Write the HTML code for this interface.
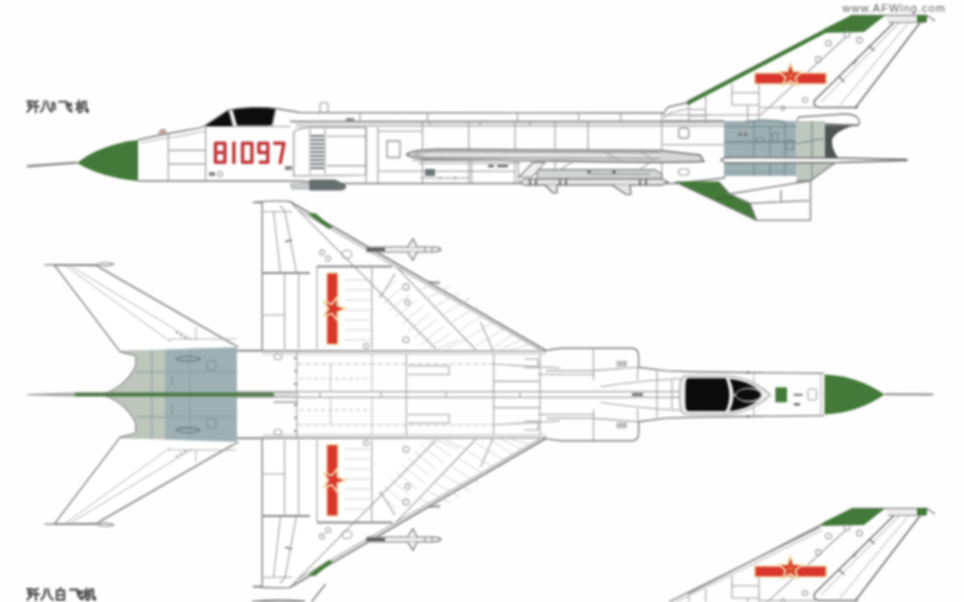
<!DOCTYPE html>
<html><head><meta charset="utf-8"><style>
html,body{margin:0;padding:0;background:#fff;width:964px;height:602px;overflow:hidden}
svg{display:block;filter:blur(0.9px)}
text{font-family:"Liberation Sans",sans-serif}
</style></head><body>
<svg width="964" height="602" viewBox="0 0 964 602">
<defs>
  <polygon id="star" points="0,-12 2.8,-3.8 11.4,-3.7 4.5,1.5 7.1,9.7 0,4.8 -7.1,9.7 -4.5,1.5 -11.4,-3.7 -2.8,-3.8"/>
</defs>
<rect width="964" height="602" fill="#fefefe"/>

<!-- ================= FIN (reused) ================= -->
<g id="fin" fill="none" stroke="#7c7c7c" stroke-width="1.3" stroke-linejoin="round">
  <!-- fin body outline -->
  <path d="M688,101 L852,15.5 L927,15.5 L935,21"/>
  <path d="M920.8,21.7 L855,108.3" stroke="#6e6e6e" stroke-width="1.5"/>
  <!-- green tip + stripe -->
  <path d="M852,15.5 L885,15.5 L864,32 L820,33 L825,28.5 Z" fill="#437a39" stroke="none"/>
  <!-- rudder -->
  <path d="M894,22.5 L815.5,99.5 C812,104 815,107.5 821,107.5 L858,107.5" stroke="#6e6e6e" stroke-width="1.5"/>
  <path d="M899,23 L821,102" stroke="#a5a5a5" stroke-width="1"/>
  <path d="M908,23.3 L840,105" stroke="#b0b0b0" stroke-width="1"/>
  <path d="M869,45.5 L874.5,51 M839,76.5 L844.5,82" stroke="#777" stroke-width="1.3"/>
  <path d="M857,59 L853,64" stroke="#777" stroke-width="2"/>
  <path d="M885,15.5 L925,15.5 L925,22.5 L888,22.5" fill="#ececec" stroke="#8a8a8a" stroke-width="1"/>
  <rect x="917" y="15" width="10" height="7" fill="#437a39" stroke="none"/>
  <!-- fin inner panels -->
  <g stroke="#9e9e9e" stroke-width="1.1">
    <path d="M689,103 L689,121.5 M705.7,96 L705.7,121.5 M689,109.5 L705.7,109.5 M689,116 L705.7,116"/>
    <path d="M732,83 L732,105 L759,105 M732,92.7 L759,92.7 M759,78 L759,121 M747.7,105 L747.7,121"/>
    <path d="M760.5,115.2 L846,37"/>
    <path d="M760,107.5 L815,107.5"/>
    <circle cx="828.5" cy="43" r="2.8"/><circle cx="847" cy="34.7" r="2.8"/><circle cx="859.5" cy="40.2" r="2.8"/><circle cx="818.3" cy="59.4" r="2.8"/>
    <circle cx="805" cy="100" r="2.5"/><circle cx="783" cy="108" r="2"/>
  </g>
  <!-- insignia -->
  <rect x="754" y="72.3" width="73" height="12.4" fill="#f2e2b2" stroke="none"/>
  <rect x="755.4" y="73.7" width="70.2" height="9.6" fill="#d9352b" stroke="none"/>
  <use href="#star" transform="translate(790.5,75.5) scale(1.08)" fill="#d9352b" stroke="#f2e2b2" stroke-width="1.6"/>
  <use href="#star" transform="translate(790.5,75.5) scale(0.35)" fill="#e8a040" stroke="none" opacity="0.5"/>
</g>

<!-- ================= SIDE VIEW ================= -->
<g id="side" fill="none" stroke="#7c7c7c" stroke-width="1.3" stroke-linejoin="round">
  <path d="M687,103.5 L852,17" stroke="#437a39" stroke-width="3.8"/>
  <!-- exhaust fills -->
  <path d="M724,121 L796.5,121 L796.5,176 L724,176 Z" fill="#9db1b5" stroke="none"/>
  <path d="M796.5,121 L825,121 L825,158 L839,160 L810,181 L796.5,181 Z" fill="#bec8be" stroke="none"/>
  <path d="M825,123.5 L859,124.5 C846,127 833,133 832,141 C832,149 836,155 840,160 L825,158 Z" fill="#4c5553" stroke="none"/>
  <g stroke="#73868a" stroke-width="1.1">
    <path d="M724,142 L796,142" stroke-width="1.5"/>
    <path d="M724,126.5 L796,126.5 M753.9,121 L753.9,176 M770,126 L770,176 M785,121 L785,176"/>
    <path d="M796,143.7 L823.4,138.5 M812,121 L812,181"/>
    <ellipse cx="760" cy="139.5" rx="4" ry="2.5"/>
    <rect x="772.5" y="132.8" width="5.2" height="9.2"/>
    <rect x="786" y="140.5" width="7.3" height="8.9"/>
    <path d="M745,122 C755,119.5 775,119.5 785,122" stroke-width="1.5"/>
    <path d="M724,160 L796,160 M724,172 L796,172" stroke="#8a9ca0" stroke-width="1"/>
  </g>
  <circle cx="739.9" cy="134.4" r="1.3" fill="#61767a"/><circle cx="745.6" cy="134.4" r="1.3" fill="#61767a"/>
  <!-- pitot -->
  <path d="M27,166.3 L77,162.6" stroke="#8a8a8a" stroke-width="2.4"/>
  <path d="M158,134 L161,129.5 L165,129.5 L166,133.5" fill="#c9a0a0" stroke="#998" stroke-width="1"/>
  <!-- green nose -->
  <path d="M77,163 C92,151 112,143 138,140 L138,181 C112,178.5 92,172 77,163 Z" fill="#437a39" stroke="none"/>
  <!-- canopy -->
  <path d="M204.3,126 L227.5,110.8 L229,110.6 L232.5,126 Z" fill="#0d0d0d" stroke="none"/>
  <path d="M232.5,109.8 C240,108 250,107.4 262,107.6 C268,107.8 273,108.4 276,109.2 L273,123 Q272,125.6 269,125.6 L237,125.6 Z" fill="#0d0d0d" stroke="none"/>
  <!-- fuselage top outline -->
  <path d="M138,140 C150,137 165,134 180,131.5 L199,128.2 L204.3,126 L227.5,110.5 C240,107 265,106.5 276,108.5 L300,112.5 L663.6,113 C666,110 667,107 670,106.5 L688.5,102.5"/>
  <path d="M140,143 C152,140.5 166,138 181,136 L205,131" stroke="#b0b0b0" stroke-width="1.2"/>
  <path d="M663.6,118 L670,113 L689,108.5" stroke="#999" stroke-width="1"/>
  <path d="M229,110.5 L234,127 M276,109 L272,127" stroke="#b5b5b5" stroke-width="1.6"/>
  <path d="M205,126.5 L290,126.5" stroke="#9a9a9a" stroke-width="1.1"/>
  <!-- rear top fairing -->
  <path d="M796.5,121 L799,117 L845,114 C857,114 862,120 858,125.5 L825,125.5"/>
  <!-- fuselage lines -->
  <path d="M296,122 L724,122 L724,126.4 L296,126.4 Z" fill="#e6e6e6" stroke="none"/>
  <path d="M290,121.5 L724,121.5" stroke-width="1.6"/>
  <path d="M296,126 L724,126" stroke="#aaa" stroke-width="1"/>
  <path d="M663,115 L760,115 M663,120.7 L724,120.7" stroke="#999" stroke-width="1"/>
  <!-- fuselage bottom -->
  <path d="M138,181 L300,181 L330,183.5 L676,183.5 L724,178 L724,176 M796.5,181 L810,181 L839,160" stroke-width="1.5"/>
  <!-- horizontal stabilizer edge-on -->
  <path d="M721,160 C722,157.5 726,157.5 730,157.5 L840,158 L907,159.5 L907,160.5 L840,162.5 L730,163 C726,163 722,162.5 721,160 Z" fill="#fbfbfb" stroke="#6a6a6a"/>
  <!-- ventral fin -->
  <path d="M675.2,181.6 L718.8,181.6 L729.7,194 L750,203.4 L756.5,220 L675.2,182.5 Z" fill="#437a39" stroke="none"/>
  <path d="M716,198.5 L735,197" stroke="#2f5a2a" stroke-width="1.2"/>
  <path d="M675.2,182 L756.5,220.3 L810.5,220.3 L810.5,180 M729.7,194 L809,181 M750,203.4 L809,200.6 M781,190 L781,202 M718.8,181.6 L729.7,194 L750,203.4 L756.5,220"/>
  <!-- panel lines side -->
  <g stroke="#999" stroke-width="1.1">
    <path d="M168.3,134 L168.3,181 M205.6,126.5 L205.6,181 M168.3,150.4 L205.6,150.4 M168.3,163.9 L205.6,163.9"/>
    <path d="M320,112 L320,103.5 Q324,101.5 328,103.5 L328,112"/>
    <path d="M293.7,176 L293.7,132 C296,129 302,128 310,127.5 L366,127.5 L366,175 Z" stroke="#8a8a8a"/>
    <path d="M310,129 L310,174 M325,129 L325,174"/>
    <path d="M311,136 L324,136 M311,140 L324,140 M311,144 L324,144 M311,148 L324,148 M311,152 L324,152 M311,156 L324,156 M311,160 L324,160 M311,164 L324,164 M311,168 L324,168" stroke="#6a7474" stroke-width="1.9"/>
    <path d="M327,136.2 L366,136.2 M327,165.6 L366,165.6"/>
    <rect x="387" y="141" width="13" height="16.5" stroke-width="1.4"/>
    <path d="M366,127 L366,183 M378,127 L378,183 M555,121.5 L555,150 M661.8,112 L661.8,183 M588,122 L588,150 M578.7,112 L578.7,122 M620.7,112 L620.7,122"/>
    <path d="M360,112.5 L360,121.5 M427.5,112.5 L427.5,121.5 M517.5,112.5 L517.5,121.5"/>
    <path d="M422.5,121.5 L422.5,183 M468.8,121.5 L468.8,183 M515,121.5 L515,183 M378,131.2 L422.5,131.2 M378,171.2 L515,171.2 M555,160 L555,175"/>
    <path d="M663,144.8 L724,144.8"/>
    <rect x="678.6" y="128" width="10.2" height="10.3" rx="3" stroke-width="1.4"/>
    <rect x="678.6" y="169" width="10.2" height="6" rx="2.5"/>
    <path d="M430,122 L430,126 M480,122 L480,126 M530,122 L530,126"/>
    <rect x="425" y="169" width="10" height="7" fill="#6f7878" stroke="none"/>
    <rect x="346" y="118" width="8" height="3.5" fill="#8a8a8a" stroke="none"/>
  </g>
  <!-- drop tank -->
  <path d="M406.5,154.5 C410,151 420,149.5 440,149.3 L660,150.4 L700,155 L704,161.6 L690,162 L660,162.5 L440,159.6 C420,159.4 410,158 406.5,154.5 Z" fill="#d6d6d6" stroke="#707070" stroke-width="1.5"/>
  <path d="M414,154.5 C418,152.5 425,151.8 440,151.6 L660,152.6 M414,154.8 C418,156.5 425,157.4 440,157.4 L660,158.4" stroke="#9a9a9a" stroke-width="1.1"/>
  <path d="M425,154.6 L660,155.5" stroke="#eeeeee" stroke-width="1.6"/>
  <path d="M600,150 L620,160 M640,151 L655,161" stroke="#999" stroke-width="1"/>
  <!-- missile & launcher side -->
  <path d="M412,160.5 L560,160.5 M418,163.2 L520,163.2" stroke="#999" stroke-width="1"/>
  <path d="M471.6,160 L471.6,183 M518.3,160 L518.3,183" stroke="#999" stroke-width="1.1"/>
  <path d="M537,169.6 L655,169.6 L662,174 L662,179 L537,179 Z" fill="#d2d4d4" stroke="#7a7a7a" stroke-width="1.1"/>
  <path d="M519,177 L533,162.5 L545,162.5 L532,177 Z" fill="#eee" stroke="#7a7a7a" stroke-width="1.1"/>
  <path d="M560,169.6 L575,160.5 M640,169.6 L652,161 M590,174 L650,174" stroke="#888" stroke-width="1"/>
  <path d="M527,179 L662,179 L668,182 L662,185.2 L527,185.2 C523,185.2 521,184 521,182 C521,180 523,179 527,179 Z" fill="#e6e6e6" stroke="#666" stroke-width="1.2"/>
  <path d="M545,185 L553,193 L557,193 L557,185 M612,185 L626,194.5 L631,194.5 L630,185" fill="#e6e6e6" stroke="#666" stroke-width="1.2"/>
  <path d="M530,179 L530,185 M536,179 L536,185 M560,179 L560,185 M566,179 L566,185 M640,179 L640,185 M646,179 L646,185" stroke="#555" stroke-width="1.6"/>
  <circle cx="589" cy="172" r="1.5" fill="#444" stroke="none"/><circle cx="614" cy="172" r="1.5" fill="#444" stroke="none"/>
  <path d="M488,166 L494,166 M497,166 L508,166" stroke="#666" stroke-width="2.4"/>
  <path d="M420,178 L470,178 M440,176 L440,180 M455,176 L455,180" stroke="#999" stroke-width="1"/>
  <!-- ventral pod -->
  <path d="M290,184 L310,183 L310,189 L292,189 Z" fill="#c9cccc" stroke="#999" stroke-width="0.8"/>
  <path d="M310,180 L335,180 L345,185 C347,187 345,190 340,190 L310,190 Z" fill="#66706e" stroke="#555" stroke-width="0.8"/>
  <!-- number -->
  <g stroke="#c23a3e" stroke-width="3.5" fill="none" stroke-linejoin="round">
    <path d="M215.5,143.2 H224.9 V162.3 H215.5 Z M215.5,152.4 H224.9"/>
    <path d="M233.9,141.6 V163.9"/>
    <path d="M242.6,143.2 H251.9 V162.3 H242.6 Z"/>
    <path d="M267.8,152.6 H258.9 V143.2 H267.8 V162.3 H258.9"/>
    <path d="M273.2,143.2 H284 L280,164"/>
  </g>
  <g fill="#888" stroke="none">
    <rect x="209" y="172" width="6" height="4"/><circle cx="220" cy="174" r="2.5" fill="none" stroke="#888" stroke-width="1"/>
    <rect x="285" y="166" width="7" height="4"/>
  </g>
</g>

<!-- ================= PLAN VIEW ================= -->
<g id="planhalf" fill="none" stroke="#7c7c7c" stroke-width="1.3" stroke-linejoin="round">
  <!-- nozzle fills -->
  <path d="M165,347.3 L237,347.3 L237,394.8 L165,394.8 Z" fill="#9db1b5" stroke="none"/>
  <path d="M119.4,351.6 L165,347.3 L165,394.8 L100,394.8 C114,391.5 128,382 135.6,366 L135.6,356 Z" fill="#bcc6bb" stroke="none"/>
  <path d="M100,394.5 C114,391.5 128,382 135.6,366 L135.6,356 L119.4,351.6 L165,347.3" stroke="#8a8a8a" stroke-width="1.1"/>
  <path d="M151.8,349 L151.8,394 M189.6,347.3 L189.6,394 M136,372 L237,372" stroke="#8a9a9e" stroke-width="1"/>
  <path d="M176,359 C180,356 195,355 200,359 C195,362 180,362 176,359 Z" stroke="#6a7a7e" stroke-width="1.3"/>
  <rect x="207" y="361" width="9" height="9" rx="2" stroke="#7a8a8e" stroke-width="1"/>
  <path d="M172,375 L172,385" stroke="#7a8a8e" stroke-width="1"/>
  <!-- stabilizer -->
  <path d="M238.3,347 L96.6,265.5 L54.2,264.8 L119.5,350.9" fill="#fff"/>
  <path d="M44.4,264.8 L100,264.8" stroke-width="1.2"/>
  <path d="M97,264.6 C100,262.3 110,262.2 114,264 C110,266.4 100,266.4 97,264.6 Z" fill="#f0f0f0" stroke="#8a8a8a" stroke-width="1.1"/>
  <g stroke="#aaa" stroke-width="0.9">
    <path d="M65,265.5 L171,342 M70.5,266 L192.5,340 M99,268 L231.7,344.3"/>
    <path d="M168.5,339 L236,339 M195.8,327 L195.8,340"/>
  </g>
  <path d="M176,332 L178,333.5 M180,334.5 L182,336 M184,337 L186,338.5" stroke="#777" stroke-width="1.3"/>
  <!-- rear fuselage edge -->
  <path d="M237,350.8 L546,350.8" stroke="#8a8a8a" stroke-width="2"/>
  <path d="M262,354 L546,354" stroke="#b5b5b5" stroke-width="1.2"/>
  <!-- wing -->
  <path d="M546,350.6 L289.5,201.4 Q272,200.3 253.1,202.5 L262.2,202.5 L262.2,350" fill="#fff"/>
  <path d="M546,350.6 L289.5,201.4" stroke-width="1.5"/>
  <g stroke="#9e9e9e" stroke-width="1.1">
    <path d="M298,210 L540,350"/>
    <path d="M292.4,204.3 L436,349 M396,266.6 L476,350 M480.5,322 L492.9,350 M395,273.9 L380,297.8"/>
    <path d="M273.5,211.8 L280.5,272.9 M285,211.8 L296.5,272.9 M262,211.8 L292,211.8 M280,205.6 L285,211.2"/>
    <path d="M262,272.9 L310,272.9" stroke="#888" stroke-width="2"/>
    <path d="M317,266.6 L392,266.6" stroke="#888" stroke-width="2"/>
    <path d="M284.6,272.9 L284.6,349 M298.6,272.9 L298.6,349 M262,315 L284.6,315 M317,266.6 L317,349 M371.8,266.6 L371.8,349"/>
    <circle cx="322" cy="252.6" r="2.5"/><circle cx="328" cy="258.8" r="2.5"/><ellipse cx="346.9" cy="254.2" rx="5" ry="4"/>
    <circle cx="406" cy="286.9" r="3"/><circle cx="407.6" cy="302.4" r="2.5"/><circle cx="406" cy="339.8" r="3"/>
    <circle cx="366" cy="346" r="2.5"/>
  </g>
  <g stroke="#c5c5c5" stroke-width="0.8">
    <path d="M345,280 L370,280 M345,290 L370,290 M345,300 L370,300 M345,310 L370,310 M345,320 L370,320 M345,330 L370,330 M345,340 L370,340"/>
    <path d="M378,296 L396,281 M384,303 L403,287 M390,310 L410,294 M396,317 L417,300 M402,324 L424,306 M408,331 L430,313 M414,338 L437,319 M420,345 L444,326 M428,349 L451,333 M437,349 L458,340 M446,349 L465,340"/>
    <path d="M420,290 L440,280 M428,298 L450,286 M436,306 L460,292 M444,314 L470,298 M452,322 L478,306 M460,330 L487,313 M468,338 L496,320 M476,346 L505,328 M490,350 L514,334 M500,350 L523,339 M510,350 L532,344"/>
  </g>
  <path d="M308,213.7 L315,213 L333,227.7 L328,228.5 Z" fill="#437a39" stroke="none"/>
  <path d="M285,241.7 L292,240" stroke="#777" stroke-width="1.5"/>
  <!-- roundel -->
  <rect x="326" y="272.3" width="12.6" height="72.8" fill="#f2e2b2" stroke="none"/>
  <rect x="327.4" y="273.6" width="9.8" height="70.2" fill="#d9352b" stroke="none"/>
  <use href="#star" transform="translate(333.5,308.8) rotate(90) scale(1.05)" fill="#d9352b" stroke="#f2e2b2" stroke-width="1.6"/>
  <!-- missile -->
  <path d="M367,247 L432,247 C438,247 441,248.5 441,249.5 C441,250.5 438,252 432,252 L367,252 Z" fill="#f4f4f4" stroke="#6e6e6e" stroke-width="1.1"/>
  <path d="M407.6,247 L413,238.6 L417,247 M407.6,252 L413,260.4 L417,252" fill="#f4f4f4" stroke="#6e6e6e" stroke-width="1.1"/>
  <path d="M367,248 L385,248 L385,251 L367,251 Z" fill="#555" stroke="none"/>
  <path d="M425,247 L425,252 M432,247 L432,252" stroke="#777" stroke-width="1"/>
  <path d="M428,282 L440,283" stroke="#777" stroke-width="1.5"/>
  <!-- intake -->
  <path d="M546,350.6 C552,349 556,348.3 562,348.2 L632,348.2 C637,348.2 638.6,351 638.6,356 L638.6,367.3 L666,370.9 L700,372 L824,373.4" stroke-width="1.4"/>
  <g stroke="#a2a2a2" stroke-width="1.1">
    <path d="M237,391.6 L700,391.6"/>
    <path d="M296.8,351 L296.8,394.5 M406.3,354 L406.3,394.5 M493.7,354 L493.7,394.5 M540,354 L540,394.5"/>
    <path d="M593.5,349 L593.5,380 M637.6,367 L637.6,380 M657,371 L657,394.5 M672,380 L672,394.5"/>
    <path d="M546,370.9 L588,370.9 C600,370.5 615,369 637.6,367.3 M538,374.5 L595,374.5"/>
    <path d="M600.5,386.7 C630,382 660,379 700,378"/>
    <path d="M408,366 L449,366 L449,374.5 L408,374.5"/>
    <path d="M524.5,359 L538,359 L538,367.7 L524.5,367.7"/>
    <path d="M493.7,381.4 L540,381.4 M493.7,364.2 L560,368"/>
    <path d="M320,391.6 L320,394.5 M381,391.6 L381,394.5 M446,391.6 L446,394.5 M520,391.6 L520,394.5"/>
    <ellipse cx="278" cy="356.8" rx="4" ry="3"/>
  </g>
  <g stroke="#b8b8b8" stroke-width="0.9">
    <path d="M297,364.2 L493,364.2" stroke-dasharray="6 2"/>
    <path d="M300,378.8 L372,378.8" stroke-dasharray="4 3"/>
    <path d="M372,354 L372,391 M330.5,365 L330.5,391"/>
  </g>
  <path d="M294,358 L297,358 M294,371 L297,371 M294,384 L297,384" stroke="#777" stroke-width="1.5"/>
  <rect x="616.4" y="360.8" width="10.6" height="5.8" fill="#bdbdbd" stroke="none"/>
  <rect x="632" y="393" width="11" height="2" fill="#777" stroke="none"/>
  <!-- nose -->
  <path d="M824.5,374.5 Q858,376 884.5,394.5 L884.5,395 L824.5,395 Z" fill="#437a39" stroke="none"/>
  <path d="M748,371.5 L748,373.5" stroke="#555" stroke-width="2"/>
  <path d="M753.8,372.5 L753.8,395 M821,373 L821,395" stroke="#aaa" stroke-width="1"/>
</g>
<use href="#planhalf" transform="matrix(1,0,0,-1,0,789)"/>
<!-- plan center line items -->
<g fill="none" stroke="#7c7c7c" stroke-width="1.3">
  <line x1="75" y1="394.6" x2="274" y2="394.6" stroke="#4b7844" stroke-width="4"/>
  <path d="M27.5,394.6 L75,393.2 L75,396 Z" fill="#bbb" stroke="#8a8a8a" stroke-width="1"/>
  <line x1="885" y1="394.3" x2="933" y2="394.5" stroke="#8a8a8a" stroke-width="2"/>
  <rect x="808" y="389" width="8.5" height="11" rx="1.5" stroke="#999" stroke-width="1"/>
  <path d="M793.6,394.8 L802.5,394.8" stroke="#666" stroke-width="1.8"/>
  <path d="M794,404.3 L800,404.3" stroke="#555" stroke-width="2.2"/>
  <rect x="775.4" y="387.4" width="11.6" height="14.9" fill="#437a39" stroke="none"/>
  <!-- canopy plan -->
  <path d="M686,376 L727,376 C745,377 760,385 770.5,395 C760,405 745,413 727,414 L686,414 C681,414 679.5,409 679.5,395 C679.5,381 681,376 686,376 Z" fill="#ececec" stroke="#9a9a9a" stroke-width="1.1"/>
  <path d="M688.5,378.3 L725.8,378.3 C728.3,385 729.3,390 729.3,395 C729.3,400 728.3,405 725.8,411 L688.5,411 C685.6,411 685.4,408 685.4,395 C685.4,382 685.6,378.3 688.5,378.3 Z" fill="#0b0b0b" stroke="none"/>
  <path d="M729.5,379 C745,380.5 757,387 765,395 C757,403 745,409.5 729.5,411 C732.3,405 733.6,400 733.6,395 C733.6,390 732.3,385 729.5,379 Z" fill="#0b0b0b" stroke="none"/>
  <path d="M734,395 C741,387 753,384.5 769.5,395 C753,405.5 741,403 734,395 Z" fill="#f2f2f2" stroke="#e6e6e6" stroke-width="1"/>
  <ellipse cx="748.3" cy="394.9" rx="12.6" ry="6.2" fill="#0b0b0b"/>
  <rect x="274" y="392.8" width="24" height="4.2" fill="#e0e0e0" stroke="#aaa" stroke-width="0.8"/>
  <path d="M274,402.1 L298,402.1" stroke="#999" stroke-width="1.5"/>
</g>

<!-- ================= SECOND FIN (bottom) ================= -->
<use href="#fin" transform="translate(0,493)"/>
<path d="M669,602 L820,527" stroke="#8a8a8a" stroke-width="1.4" fill="none"/>
<path d="M672,604 L822,530" stroke="#aaa" stroke-width="1" fill="none"/>
<path d="M325.7,584 L311.4,602" stroke="#888" stroke-width="1.6"/>
<path d="M252,602 Q275,599.5 305,601.5" stroke="#777" stroke-width="2" fill="none"/>

<!-- watermark -->
<text x="842.6" y="11.7" font-size="11" letter-spacing="1" fill="#5e5e5e">www.AFWing.com</text>
<!-- chinese labels -->
<defs>
  <path id="g_jian" d="M0.5,1 H5.5 M2.8,1 L1.6,4.8 M1.4,4.2 H4.8 L3.2,8.8 L0.5,11.6 M2.2,6.8 L4,8.2 M10.8,0.8 L6.6,2.4 M6,6.2 H12 M9,1.8 V12"/>
  <path id="g_ba" d="M4.4,1.2 C4.4,6 3.5,9 0.8,11.6 M7.2,1.2 C7.4,6 8.5,9 11.6,11.6"/>
  <path id="g_bai" d="M6.2,0.2 L5.2,2.4 M2,2.6 H10 V11.6 H2 Z M2,7 H10"/>
  <path id="g_fei" d="M0.8,1.6 H7.2 C7.2,6.5 8.4,9.8 11.6,11.4 L11.6,9 M8.8,3.4 L11.6,5.8 M11.2,3.2 L8.8,6.8"/>
  <path id="g_ji" d="M0.4,3.6 H5.4 M3,0.4 V12 M3,4.2 L0.4,9.4 M3.2,5.4 L5.2,7.4 M6.6,1.4 H9.6 V10.2 Q9.6,11.6 11.6,11.6 V9.4 M6.6,1.4 V7 Q6.6,10.2 5,12"/>
</defs>
<g fill="none" stroke="#555" stroke-width="1.95" stroke-linecap="square" stroke-linejoin="miter">
  <use href="#g_jian" transform="translate(26.8,100.2)"/>
  <use href="#g_ba" transform="translate(40,100.2)"/>
  <use href="#g_fei" transform="translate(58.5,100.2) scale(1.1,1)"/>
  <use href="#g_ji" transform="translate(75.8,100.2) scale(1.05,1)"/>
</g>
<text x="51" y="110.3" font-size="10" font-weight="bold" fill="#555" stroke="#555" stroke-width="0.7" transform="translate(51 0) scale(0.72 1) translate(-51 0)">B</text>
<g fill="none" stroke="#4e4e4e" stroke-width="2.05" stroke-linecap="square" stroke-linejoin="miter">
  <use href="#g_jian" transform="translate(26.9,588)"/>
  <use href="#g_ba" transform="translate(40.5,588) scale(1.05,1)"/>
  <use href="#g_bai" transform="translate(54.8,588) scale(0.95,1)"/>
  <use href="#g_fei" transform="translate(69.5,588) scale(1.08,1)"/>
  <use href="#g_ji" transform="translate(83.5,588)"/>
</g>
</svg>
</body></html>
